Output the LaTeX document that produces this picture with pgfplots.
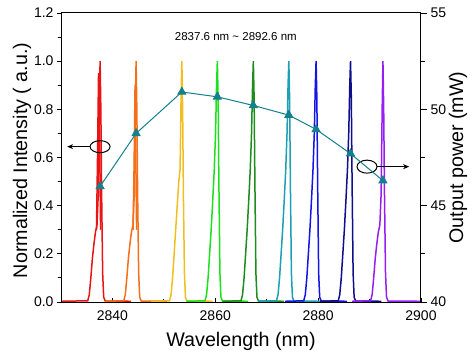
\documentclass[border=0pt]{standalone}
\usepackage{pgfplots}
\pgfplotsset{compat=1.18}
\usepackage{fontspec}
\setmainfont{Liberation Sans}
\usetikzlibrary{arrows.meta}
\definecolor{cRed}{RGB}{235,20,20}
\definecolor{cOrange}{RGB}{245,110,25}
\definecolor{cYellow}{RGB}{240,190,30}
\definecolor{cGreen}{RGB}{30,225,30}
\definecolor{cDGreen}{RGB}{30,140,30}
\definecolor{cTeal}{RGB}{30,160,180}
\definecolor{cBlue}{RGB}{20,20,230}
\definecolor{cNavy}{RGB}{15,15,140}
\definecolor{cViolet}{RGB}{150,30,240}
\definecolor{cPow}{RGB}{20,128,140}
\begin{document}
\begin{tikzpicture}
\path[use as bounding box] (0,0) rectangle (474bp,355bp);
\begin{axis}[name=ax, at={(61bp,53bp)}, anchor=south west, scale only axis,
  width=360bp, height=289bp,
  xmin=2830, xmax=2900, ymin=0, ymax=1.2,
  xtick={2840,2860,2880,2900}, minor xtick={2850,2870,2890},
  ytick={0,0.2,0.4,0.6,0.8,1.0,1.2}, minor ytick={0.1,0.3,0.5,0.7,0.9,1.1},
  xtick pos=bottom, ytick pos=left,
  tick align=inside, major tick length=4bp, minor tick length=3bp,
  major y tick style={xshift=-4bp}, minor y tick style={xshift=-3bp},
  every tick/.style={black, line width=0.9bp},
  axis line style={line width=1bp},
  /pgf/number format/assume math mode=true,
  /pgf/number format/1000 sep={},
  yticklabel style={/pgf/number format/fixed, /pgf/number format/fixed zerofill, /pgf/number format/precision=1, xshift=-4bp},
  tick label style={font=\fontsize{14bp}{16bp}\selectfont},
  xticklabel style={yshift=-5bp},
  label style={font=\fontsize{19.7bp}{22bp}\selectfont},
  xlabel={Wavelength (nm)},
  ylabel={Normalized Intensity ( a.u.)},
  xlabel style={at={(axis description cs:0.5,-0.135)}, anchor=center},
  ylabel style={at={(axis description cs:-0.108,0.49)}, anchor=center},
  every axis plot/.append style={line width=1.5bp, no markers},
  clip=true,
]
\addplot[cRed] coordinates {(2830,0.003) (2835.2,0.005) (2835.5,0.03) (2835.8,0.1) (2836.1,0.18) (2836.4,0.24) (2836.7,0.29) (2837.0,0.32) (2837.25,0.45) (2837.45,0.8) (2837.6,1.0) (2837.75,0.8) (2837.9,0.45) (2838.1,0.12) (2838.3,0.02) (2838.6,0.004) (2843.6,0.003)};
\addplot[cRed] coordinates {(2836.9,0.3) (2837.1,0.6) (2837.3,0.95) (2837.5,0.7) (2837.7,0.3)};
\addplot[cOrange] coordinates {(2838.6,0.003) (2842.2,0.005) (2842.5,0.03) (2842.8,0.1) (2843.1,0.18) (2843.4,0.24) (2843.7,0.29) (2844.0,0.32) (2844.25,0.45) (2844.45,0.8) (2844.6,1.0) (2844.75,0.8) (2844.9,0.45) (2845.1,0.12) (2845.3,0.02) (2845.6,0.004) (2850.6,0.003)};
\addplot[cOrange] coordinates {(2844.0,0.3) (2844.2,0.55) (2844.4,0.9) (2844.55,0.6) (2844.7,0.3)};
\addplot[cYellow] coordinates {(2847.5,0.003) (2851.1,0.005) (2851.4,0.03) (2851.7,0.1) (2852.0,0.2) (2852.3,0.3) (2852.6,0.4) (2852.9,0.5) (2853.15,0.55) (2853.35,0.85) (2853.5,1.0) (2853.65,0.8) (2853.8,0.45) (2854.0,0.12) (2854.2,0.02) (2854.5,0.004) (2859.5,0.003)};
\addplot[cGreen] coordinates {(2854.4,0.003) (2858.0,0.005) (2858.3,0.03) (2858.6,0.1) (2858.9,0.2) (2859.2,0.3) (2859.5,0.42) (2859.8,0.55) (2860.05,0.7) (2860.25,0.9) (2860.4,1.0) (2860.55,0.85) (2860.7,0.5) (2860.9,0.12) (2861.1,0.02) (2861.4,0.004) (2866.4,0.003)};
\addplot[cDGreen] coordinates {(2861.4,0.003) (2865.0,0.005) (2865.3,0.03) (2865.6,0.1) (2865.9,0.2) (2866.2,0.3) (2866.5,0.42) (2866.8,0.55) (2867.05,0.7) (2867.25,0.9) (2867.4,1.0) (2867.55,0.85) (2867.7,0.5) (2867.9,0.12) (2868.1,0.02) (2868.4,0.004) (2873.4,0.003)};
\addplot[cTeal] coordinates {(2868.3,0.003) (2871.9,0.005) (2872.2,0.03) (2872.5,0.1) (2872.8,0.2) (2873.1,0.3) (2873.4,0.42) (2873.7,0.55) (2873.95,0.7) (2874.15,0.9) (2874.3,1.0) (2874.45,0.85) (2874.6,0.5) (2874.8,0.12) (2875.0,0.02) (2875.3,0.004) (2880.3,0.003)};
\addplot[cBlue] coordinates {(2873.6,0.003) (2877.2,0.005) (2877.5,0.03) (2877.8,0.1) (2878.1,0.2) (2878.4,0.3) (2878.7,0.42) (2879.0,0.55) (2879.25,0.7) (2879.45,0.9) (2879.6,1.0) (2879.75,0.85) (2879.9,0.5) (2880.1,0.12) (2880.3,0.02) (2880.6,0.004) (2885.6,0.003)};
\addplot[cNavy] coordinates {(2880.3,0.003) (2883.9,0.005) (2884.2,0.03) (2884.5,0.1) (2884.8,0.2) (2885.1,0.3) (2885.4,0.42) (2885.7,0.55) (2885.95,0.7) (2886.15,0.9) (2886.3,1.0) (2886.45,0.85) (2886.6,0.5) (2886.8,0.12) (2887.0,0.02) (2887.3,0.004) (2892.3,0.003)};
\addplot[cViolet] coordinates {(2886.6,0.003) (2890.2,0.005) (2890.5,0.03) (2890.8,0.1) (2891.1,0.18) (2891.4,0.24) (2891.7,0.29) (2892.0,0.32) (2892.25,0.45) (2892.45,0.8) (2892.6,1.0) (2892.75,0.8) (2892.9,0.45) (2893.1,0.12) (2893.3,0.02) (2893.6,0.004) (2900,0.003)};
\node[font=\fontsize{11.5bp}{13bp}\selectfont] at (axis cs:2864.0,1.102) {2837.6 nm \textasciitilde\ 2892.6 nm};
\draw[line width=1bp] (axis cs:2837.6,0.645) ellipse [x radius=10bp, y radius=6bp];
\draw[line width=1bp, -{Stealth[length=6bp,width=5bp]}] ([xshift=-10bp]axis cs:2837.6,0.645) -- (axis cs:2831.2,0.645);
\draw[line width=1bp] (axis cs:2889.5,0.562) ellipse [x radius=10bp, y radius=6.5bp];
\draw[line width=1bp, -{Stealth[length=6bp,width=5bp]}] ([xshift=10bp]axis cs:2889.5,0.562) -- (axis cs:2897.7,0.562);
\end{axis}
\begin{axis}[at={(61bp,53bp)}, anchor=south west, scale only axis,
  width=360bp, height=289bp,
  xmin=2830, xmax=2900, ymin=40, ymax=55,
  hide x axis,
  ytick={40,45,50,55}, minor ytick={42.5,47.5,52.5},
  ytick pos=right, yticklabel pos=right,
  tick align=outside, major tick length=6bp, minor tick length=4bp,
  every tick/.style={black, line width=0.9bp},
  axis line style={line width=1bp},
  /pgf/number format/assume math mode=true,
  tick label style={font=\fontsize{14bp}{16bp}\selectfont},
  label style={font=\fontsize{19.7bp}{22bp}\selectfont},
  ylabel={Output power (mW)},
  ylabel style={at={(axis description cs:1.103,0.5)}, anchor=center},
]
\addplot[cPow, line width=1bp, mark=triangle*, mark size=4.5bp, mark options={fill=cPow, draw=cPow}] coordinates {
(2837.6,46.0) (2844.6,48.75) (2853.5,50.9) (2860.4,50.65) (2867.4,50.2) (2874.3,49.7) (2879.6,48.96) (2886.3,47.7) (2892.6,46.3)};
\end{axis}
\end{tikzpicture}
\end{document}
